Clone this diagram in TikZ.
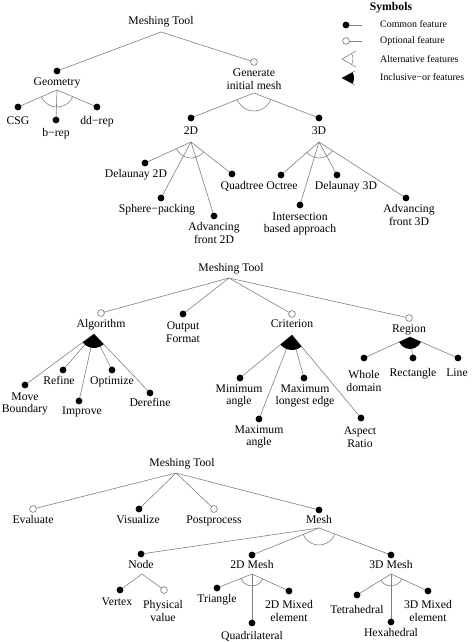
\documentclass[tikz,border=0pt]{standalone}
\usepackage{fontspec}
\setmainfont{Liberation Serif}
\usetikzlibrary{calc}
\newcommand{\fmlbl}{\fontsize{11.7pt}{12.6pt}\selectfont}
\newcommand{\fmlgd}{\fontsize{9.9pt}{11pt}\selectfont}
% 备选弧（空心）：#2 顶点，#3 左支，#4 右支，#1 半径
\newcommand{\altarc}[4][15pt]{%
  \draw[link] let \p1=($(#3)-(#2)$), \p2=($(#4)-(#2)$),
    \n1={atan2(\y1,\x1)}, \n2={atan2(\y2,\x2)} in
    ($(#2)!#1!(#3)$) arc[start angle=\n1, end angle=\n2, radius=#1];}
% 或扇形（实心）
\newcommand{\orwedge}[4][15pt]{%
  \fill let \p1=($(#3)-(#2)$), \p2=($(#4)-(#2)$),
    \n1={atan2(\y1,\x1)}, \n2={atan2(\y2,\x2)} in
    (#2) -- ($(#2)!#1!(#3)$) arc[start angle=\n1, end angle=\n2, radius=#1] -- cycle;}

\begin{document}
\begin{tikzpicture}[x=1pt,y=-1pt,line join=bevel,
  link/.style={draw=black!50,line width=0.6pt},
  odot/.style={fill=white,draw=black!55,line width=0.6pt},
  lbl2/.style={font=\fmlbl,align=center,inner sep=0pt},
  lbl/.style={lbl2,text height=8pt,text depth=2.4pt},
  lgd/.style={font=\fmlgd,anchor=west,inner sep=0pt,text height=7pt,text depth=2pt}]
  \path[use as bounding box] (0,0) rectangle (474,642);  % 源画布 474×642px，y 向下
  % ---- 图例 ----
  \node[lbl,font=\fmlbl\bfseries] (sym) at (391,8) {Symbols};
  \coordinate (kC) at (346,25);  \coordinate (kCe) at (362,25);
  \coordinate (kO) at (346,41);  \coordinate (kOe) at (362,41);
  \coordinate (kA) at (342,59);  \coordinate (kAu) at (356,51); \coordinate (kAd) at (356,67);
  \coordinate (kI) at (342,78);  \coordinate (kIu) at (355,71); \coordinate (kId) at (355,85);
  \draw[link] (kC) -- (kCe);
  \draw[link] (kO) -- (kOe);
  \draw[link] (kAu) -- (kA) -- (kAd);
  \altarc[11pt]{kA}{kAu}{kAd}
  \draw[link] (kIu) -- (kI) -- (kId);
  \orwedge[12pt]{kI}{kIu}{kId}
  \fill (kC) circle[radius=3.4pt];
  \filldraw[odot] (kO) circle[radius=3.4pt];
  \node[lgd] (symC) at (380,25) {Common feature};
  \node[lgd] (symO) at (380,41) {Optional feature};
  \node[lgd] (symA) at (380,60) {Alternative features};
  \node[lgd] (symI) at (380,78) {Inclusive−or features};

  % ---- 树一：几何与初始网格 ----
  \node[lbl] (aRoot) at (161,22) {Meshing Tool};
  \coordinate (aTop)  at (161,32);
  \coordinate (aGeo)  at ( 57,71);  \coordinate (aGeoB) at ( 57,90);
  \coordinate (aCSG)  at ( 18,107);
  \coordinate (aBrep) at ( 56,120);
  \coordinate (aDD)   at ( 97,107);
  \coordinate (aGen)  at (254,62);  \coordinate (aGenB) at (254,93);
  \coordinate (a2D)   at (191,118); \coordinate (a2DB)  at (191,142);
  \coordinate (a3D)   at (319,118); \coordinate (a3DB)  at (319,142);
  \coordinate (aDel2) at (145,163);
  \coordinate (aSph)  at (161,198);
  \coordinate (aAdv2) at (214,216);
  \coordinate (aQuad) at (232,174);
  \coordinate (aOct)  at (281,175);
  \coordinate (aInt)  at (300,205);
  \coordinate (aDel3) at (337,175);
  \coordinate (aAdv3) at (406,198);
  \draw[link] (aGeo) -- (aTop) -- (aGen);
  \foreach \c in {aCSG,aBrep,aDD} \draw[link] (aGeoB) -- (\c);
  \foreach \c in {a2D,a3D} \draw[link] (aGenB) -- (\c);
  \foreach \c in {aDel2,aSph,aAdv2,aQuad} \draw[link] (a2DB) -- (\c);
  \foreach \c in {aOct,aInt,aDel3,aAdv3} \draw[link] (a3DB) -- (\c);
  \altarc[17pt]{aGeoB}{aCSG}{aDD}
  \altarc[18pt]{aGenB}{a2D}{a3D}
  \altarc[16pt]{a2DB}{aDel2}{aQuad}
  \altarc[16pt]{a3DB}{aOct}{aAdv3}
  \node[lbl] (aGeoL)  at ( 57,83)  {Geometry};
  \node[lbl] (aCSGL)  at ( 18,122) {CSG};
  \node[lbl] (aBrepL) at ( 56,134) {b−rep};
  \node[lbl] (aDDL)   at ( 97,122) {dd−rep};
  \node[lbl2] (aGenL)  at (254,79)  {Generate\\initial mesh};
  \node[lbl] (a2DL)   at (191,132) {2D};
  \node[lbl] (a3DL)   at (319,132) {3D};
  \node[lbl] (aDel2L) at (136,175) {Delaunay 2D};
  \node[lbl] (aSphL)  at (157,210) {Sphere−packing};
  \node[lbl2] (aAdv2L) at (214,233) {Advancing\\front 2D};
  \node[lbl] (aQuadL) at (242,187) {Quadtree};
  \node[lbl] (aOctL)  at (282,187) {Octree};
  \node[lbl2] (aIntL)  at (300,224) {Intersection\\based approach};
  \node[lbl] (aDel3L) at (346,187) {Delaunay 3D};
  \node[lbl2] (aAdv3L) at (409,215) {Advancing\\front 3D};
  \foreach \p in {aGeo,aCSG,aBrep,aDD,a2D,a3D,aDel2,aSph,aAdv2,aQuad,aOct,aInt,aDel3,aAdv3}
    \fill (\p) circle[radius=3.4pt];
  \filldraw[odot] (aGen) circle[radius=3.4pt];

  % ---- 树二：算法、准则、区域 ----
  \node[lbl] (bRoot) at (231,269) {Meshing Tool};
  \coordinate (bTop)   at (229,278);
  \coordinate (bAlg)   at (101,313); \coordinate (bAlgB)  at ( 94,334);
  \coordinate (bMove)  at ( 25,385);
  \coordinate (bRef)   at ( 63,370);
  \coordinate (bImp)   at ( 79,401);
  \coordinate (bOpt)   at (112,370);
  \coordinate (bDer)   at (150,393);
  \coordinate (bOut)   at (183,314);
  \coordinate (bCrit)  at (292,314); \coordinate (bCritB) at (292,335);
  \coordinate (bMinA)  at (240,378);
  \coordinate (bMaxA)  at (259,419);
  \coordinate (bMaxE)  at (304,378);
  \coordinate (bAsp)   at (361,418);
  \coordinate (bReg)   at (409,318); \coordinate (bRegB)  at (410,337);
  \coordinate (bWhole) at (364,358);
  \coordinate (bRect)  at (413,358);
  \coordinate (bLine)  at (458,358);
  \foreach \c in {bAlg,bOut,bCrit,bReg} \draw[link] (bTop) -- (\c);
  \foreach \c in {bMove,bRef,bImp,bOpt,bDer} \draw[link] (bAlgB) -- (\c);
  \foreach \c in {bMinA,bMaxA,bMaxE,bAsp} \draw[link] (bCritB) -- (\c);
  \foreach \c in {bWhole,bRect,bLine} \draw[link] (bRegB) -- (\c);
  \orwedge[14pt]{bAlgB}{bMove}{bDer}
  \orwedge[15pt]{bCritB}{bMinA}{bAsp}
  \orwedge[12pt]{bRegB}{bWhole}{bLine}
  \node[lbl] (bAlgL)   at (101,325) {Algorithm};
  \node[lbl2] (bMoveL)  at ( 25,404) {Move\\Boundary};
  \node[lbl] (bRefL)   at ( 59,382) {Refine};
  \node[lbl] (bImpL)   at ( 82,412) {Improve};
  \node[lbl] (bOptL)   at (112,382) {Optimize};
  \node[lbl] (bDerL)   at (150,404) {Derefine};
  \node[lbl2] (bOutL)   at (183,332) {Output\\Format};
  \node[lbl] (bCritL)  at (292,325) {Criterion};
  \node[lbl2] (bMinAL)  at (239,396) {Minimum\\angle};
  \node[lbl2] (bMaxAL)  at (259,437) {Maximum\\angle};
  \node[lbl2] (bMaxEL)  at (305,396) {Maximum\\longest edge};
  \node[lbl2] (bAspL)   at (360,437) {Aspect\\Ratio};
  \node[lbl] (bRegL)   at (409,330) {Region};
  \node[lbl2] (bWholeL) at (364,381) {Whole\\domain};
  \node[lbl] (bRectL)  at (413,374) {Rectangle};
  \node[lbl] (bLineL)  at (457,374) {Line};
  \foreach \p in {bMove,bRef,bImp,bOpt,bDer,bOut,bMinA,bMaxA,bMaxE,bAsp,bWhole,bRect,bLine}
    \fill (\p) circle[radius=3.4pt];
  \foreach \p in {bAlg,bCrit,bReg} \filldraw[odot] (\p) circle[radius=3.4pt];

  % ---- 树三：网格类型 ----
  \node[lbl] (cRoot) at (182,464) {Meshing Tool};
  \coordinate (cTop)   at (176,473);
  \coordinate (cEval)  at ( 33,509);
  \coordinate (cVis)   at (139,509);
  \coordinate (cPost)  at (214,509);
  \coordinate (cMesh)  at (319,510); \coordinate (cMeshB) at (319,528);
  \coordinate (cNode)  at (141,554); \coordinate (cNodeB) at (142,574);
  \coordinate (cVert)  at (120,590);
  \coordinate (cPhys)  at (164,590);
  \coordinate (c2D)    at (252,555); \coordinate (c2DB)   at (252,574);
  \coordinate (cTri)   at (217,588);
  \coordinate (cQuad)  at (252,623);
  \coordinate (c2Mix)  at (289,591);
  \coordinate (c3D)    at (391,555); \coordinate (c3DB)   at (391,574);
  \coordinate (cTet)   at (357,595);
  \coordinate (cHex)   at (391,622);
  \coordinate (c3Mix)  at (428,591);
  \foreach \c in {cEval,cVis,cPost,cMesh} \draw[link] (cTop) -- (\c);
  \foreach \c in {cNode,c2D,c3D} \draw[link] (cMeshB) -- (\c);
  \foreach \c in {cVert,cPhys} \draw[link] (cNodeB) -- (\c);
  \foreach \c in {cTri,cQuad,c2Mix} \draw[link] (c2DB) -- (\c);
  \foreach \c in {cTet,cHex,c3Mix} \draw[link] (c3DB) -- (\c);
  \altarc[17pt]{cMeshB}{c2D}{c3D}
  \altarc[12pt]{c2DB}{cTri}{c2Mix}
  \altarc[12pt]{c3DB}{cTet}{c3Mix}
  \node[lbl] (cEvalL)  at ( 33,521) {Evaluate};
  \node[lbl] (cVisL)   at (138,521) {Visualize};
  \node[lbl] (cPostL)  at (214,521) {Postprocess};
  \node[lbl] (cMeshL)  at (319,521) {Mesh};
  \node[lbl] (cNodeL)  at (141,566) {Node};
  \node[lbl] (cVertL)  at (117,603) {Vertex};
  \node[lbl2] (cPhysL)  at (163,611) {Physical\\value};
  \node[lbl] (c2DL)    at (252,566) {2D Mesh};
  \node[lbl] (cTriL)   at (217,600) {Triangle};
  \node[lbl] (cQuadL)  at (252,637) {Quadrilateral};
  \node[lbl2] (c2MixL)  at (289,611) {2D Mixed\\element};
  \node[lbl] (c3DL)    at (391,566) {3D Mesh};
  \node[lbl] (cTetL)   at (357,611) {Tetrahedral};
  \node[lbl] (cHexL)   at (391,634) {Hexahedral};
  \node[lbl2] (c3MixL)  at (428,611) {3D Mixed\\element};
  \foreach \p in {cVis,cMesh,cNode,cVert,c2D,cTri,cQuad,c2Mix,c3D,cTet,cHex,c3Mix}
    \fill (\p) circle[radius=3.4pt];
  \foreach \p in {cEval,cPost,cPhys} \filldraw[odot] (\p) circle[radius=3.4pt];
\end{tikzpicture}
\end{document}
